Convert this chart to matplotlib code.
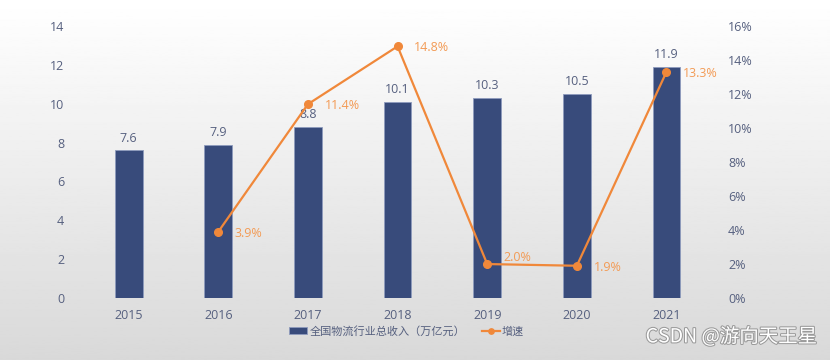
import numpy as np
import matplotlib
matplotlib.use("Agg")
import matplotlib.pyplot as plt
import matplotlib.patheffects as pe

plt.rcParams['font.family'] = ['Open Sans', 'Noto Sans CJK SC', 'DejaVu Sans']

years = ['2015', '2016', '2017', '2018', '2019', '2020', '2021']
income = [7.6, 7.9, 8.8, 10.1, 10.3, 10.5, 11.9]
growth = [np.nan, 3.9, 11.4, 14.8, 2.0, 1.9, 13.3]

bar_color = '#384B7B'
line_color = '#F0883A'
tick_color = '#56607F'

fig = plt.figure(figsize=(8.3, 3.6), dpi=100)

# background gradient
bg = fig.add_axes([0, 0, 1, 1], zorder=-10)
grad = np.linspace(1.0, 0.85, 256).reshape(-1, 1)
bg.imshow(grad, aspect='auto', cmap='gray', vmin=0, vmax=1, extent=[0, 1, 0, 1])
bg.axis('off')

ax = fig.add_axes([0.101, 0.172, 0.756, 0.756])
ax.patch.set_alpha(0)
x = np.arange(len(years))
bars = ax.bar(x, income, width=0.31, color=bar_color, edgecolor='#8E9BBD', linewidth=0.6,
              label='全国物流行业总收入（万亿元）', zorder=2)
ax.set_ylim(0, 14)
ax.set_yticks(range(0, 15, 2))
ax.set_xlim(-0.5, len(years) - 0.5)
ax.set_xticks(x)
ax.set_xticklabels(years)
for v, xi in zip(income, x):
    ax.annotate(f'{v}', (xi, v), xytext=(0, 4), textcoords='offset points',
                ha='center', va='bottom', fontsize=9, color=tick_color)

ax2 = ax.twinx()
ax2.set_ylim(0, 16)
ax2.set_yticks(range(0, 17, 2))
ax2.set_yticklabels([f'{t}%' for t in range(0, 17, 2)])
ax2.plot(x, growth, color=line_color, lw=1.6, marker='o', ms=5.5, label='增速', zorder=3)
for g, xi in zip(growth, x):
    if np.isnan(g):
        continue
    # the 2.0% label sits above the flat segment in the original
    dy = 5 if xi == 4 else -1
    ax2.annotate(f'{g}%', (xi, g), xytext=(12, dy), textcoords='offset points',
                 ha='left', va='center', fontsize=9, color='#F39B55')

for a in (ax, ax2):
    for s in a.spines.values():
        s.set_visible(False)
    a.tick_params(length=0, labelsize=9, colors=tick_color)
ax.tick_params(axis='x', pad=8)
ax.tick_params(axis='y', pad=14)
ax2.tick_params(axis='y', pad=12)

h1, l1 = ax.get_legend_handles_labels()
h2, l2 = ax2.get_legend_handles_labels()
fig.legend(h1 + h2, l1 + l2, loc='center', bbox_to_anchor=(0.49, 0.078), ncol=2,
           frameon=False, fontsize=8, labelcolor=tick_color, handlelength=1.6,
           handletextpad=0.2, columnspacing=1.5, markerscale=0.7)

fig.text(0.985, 0.035, 'CSDN @游向天王星', ha='right', va='bottom', fontsize=14,
         color='white', family=['Noto Sans CJK SC', 'DejaVu Sans'],
         path_effects=[pe.withStroke(linewidth=1.5, foreground='#9A9A9A')])

fig.savefig('out.png', dpi=100)
